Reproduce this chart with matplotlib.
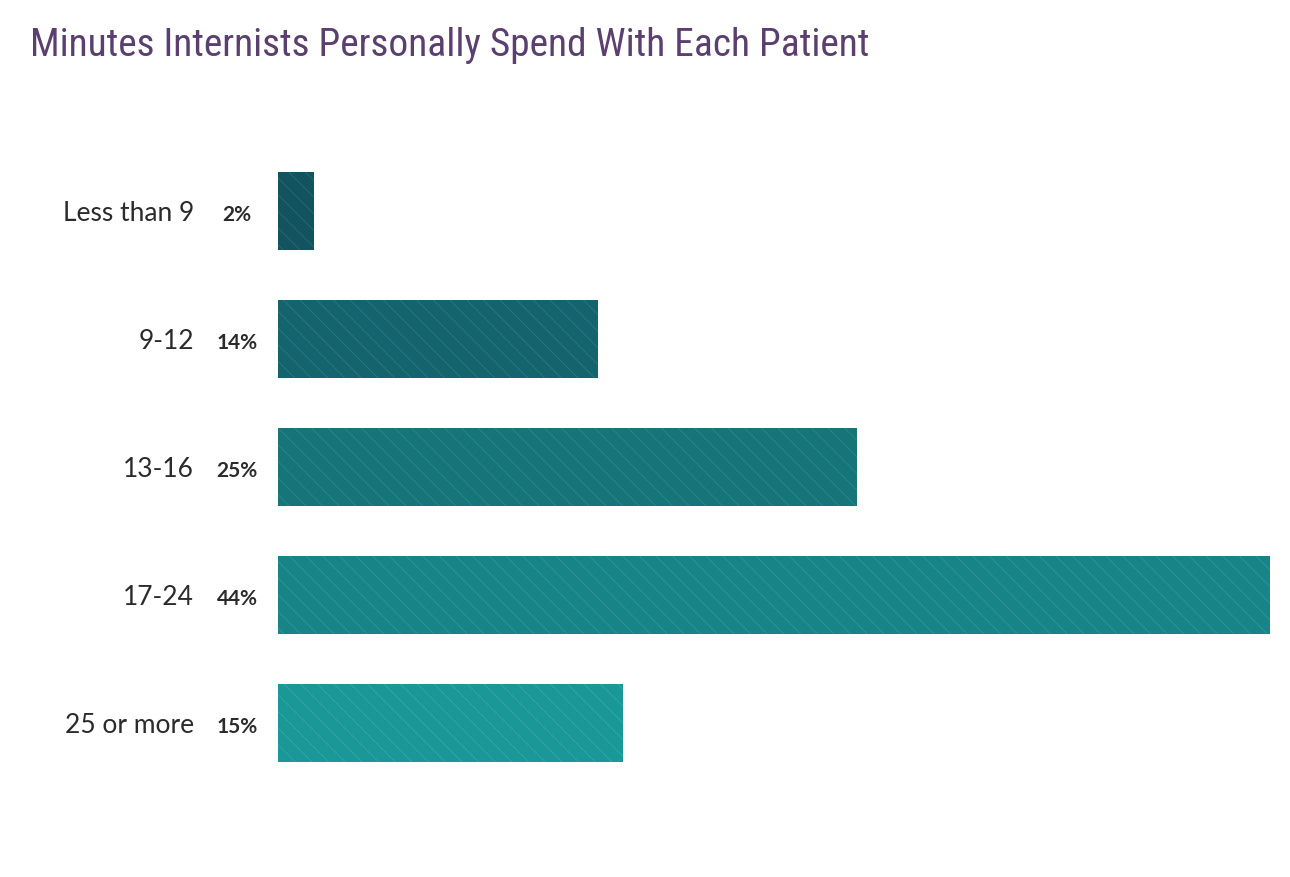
import matplotlib.pyplot as plt
import matplotlib as mpl

categories = ["Less than 9", "9-12", "13-16", "17-24", "25 or more"]
values = [1.6, 14.2, 25.7, 44.0, 15.3]
labels = ["2%", "14%", "25%", "44%", "15%"]
colors = ["#11535e", "#13646e", "#157579", "#178587", "#1a9898"]
title = "Minutes Internists Personally Spend With Each Patient"

mpl.rcParams["hatch.linewidth"] = 0.5

W, H = 1290, 878
fig = plt.figure(figsize=(W / 100, H / 100), dpi=100)
ax = fig.add_axes([278 / W, 1 - 788 / H, (1270 - 278) / W, 640 / H])

ypos = list(range(len(categories)))
for y, v, c in zip(ypos, values, colors):
    ax.barh(y, v, height=0.61, color=c, edgecolor=(1, 1, 1, 0.14), hatch="\\\\",
            linewidth=0)

ax.set_xlim(0, max(values))
ax.set_ylim(len(categories) - 0.5, -0.5)
ax.set_axis_off()

for y, cat, lab in zip(ypos, categories, labels):
    ax.text(-84 / 992, y + 0.01, cat, transform=ax.get_yaxis_transform(),
            ha="right", va="center", fontsize=19, family="Lato", color="#2b2b2b")
    ax.text(-41 / 992, y + 0.02, lab, transform=ax.get_yaxis_transform(),
            ha="center", va="center", fontsize=15, family="Lato",
            fontweight="bold", color="#2b2b2b")

fig.text(30 / W, 1 - 45 / H, title, ha="left", va="center", fontsize=28.4,
         family="Roboto Condensed", color="#5b3f6e")

fig.savefig("out.png", dpi=100)
